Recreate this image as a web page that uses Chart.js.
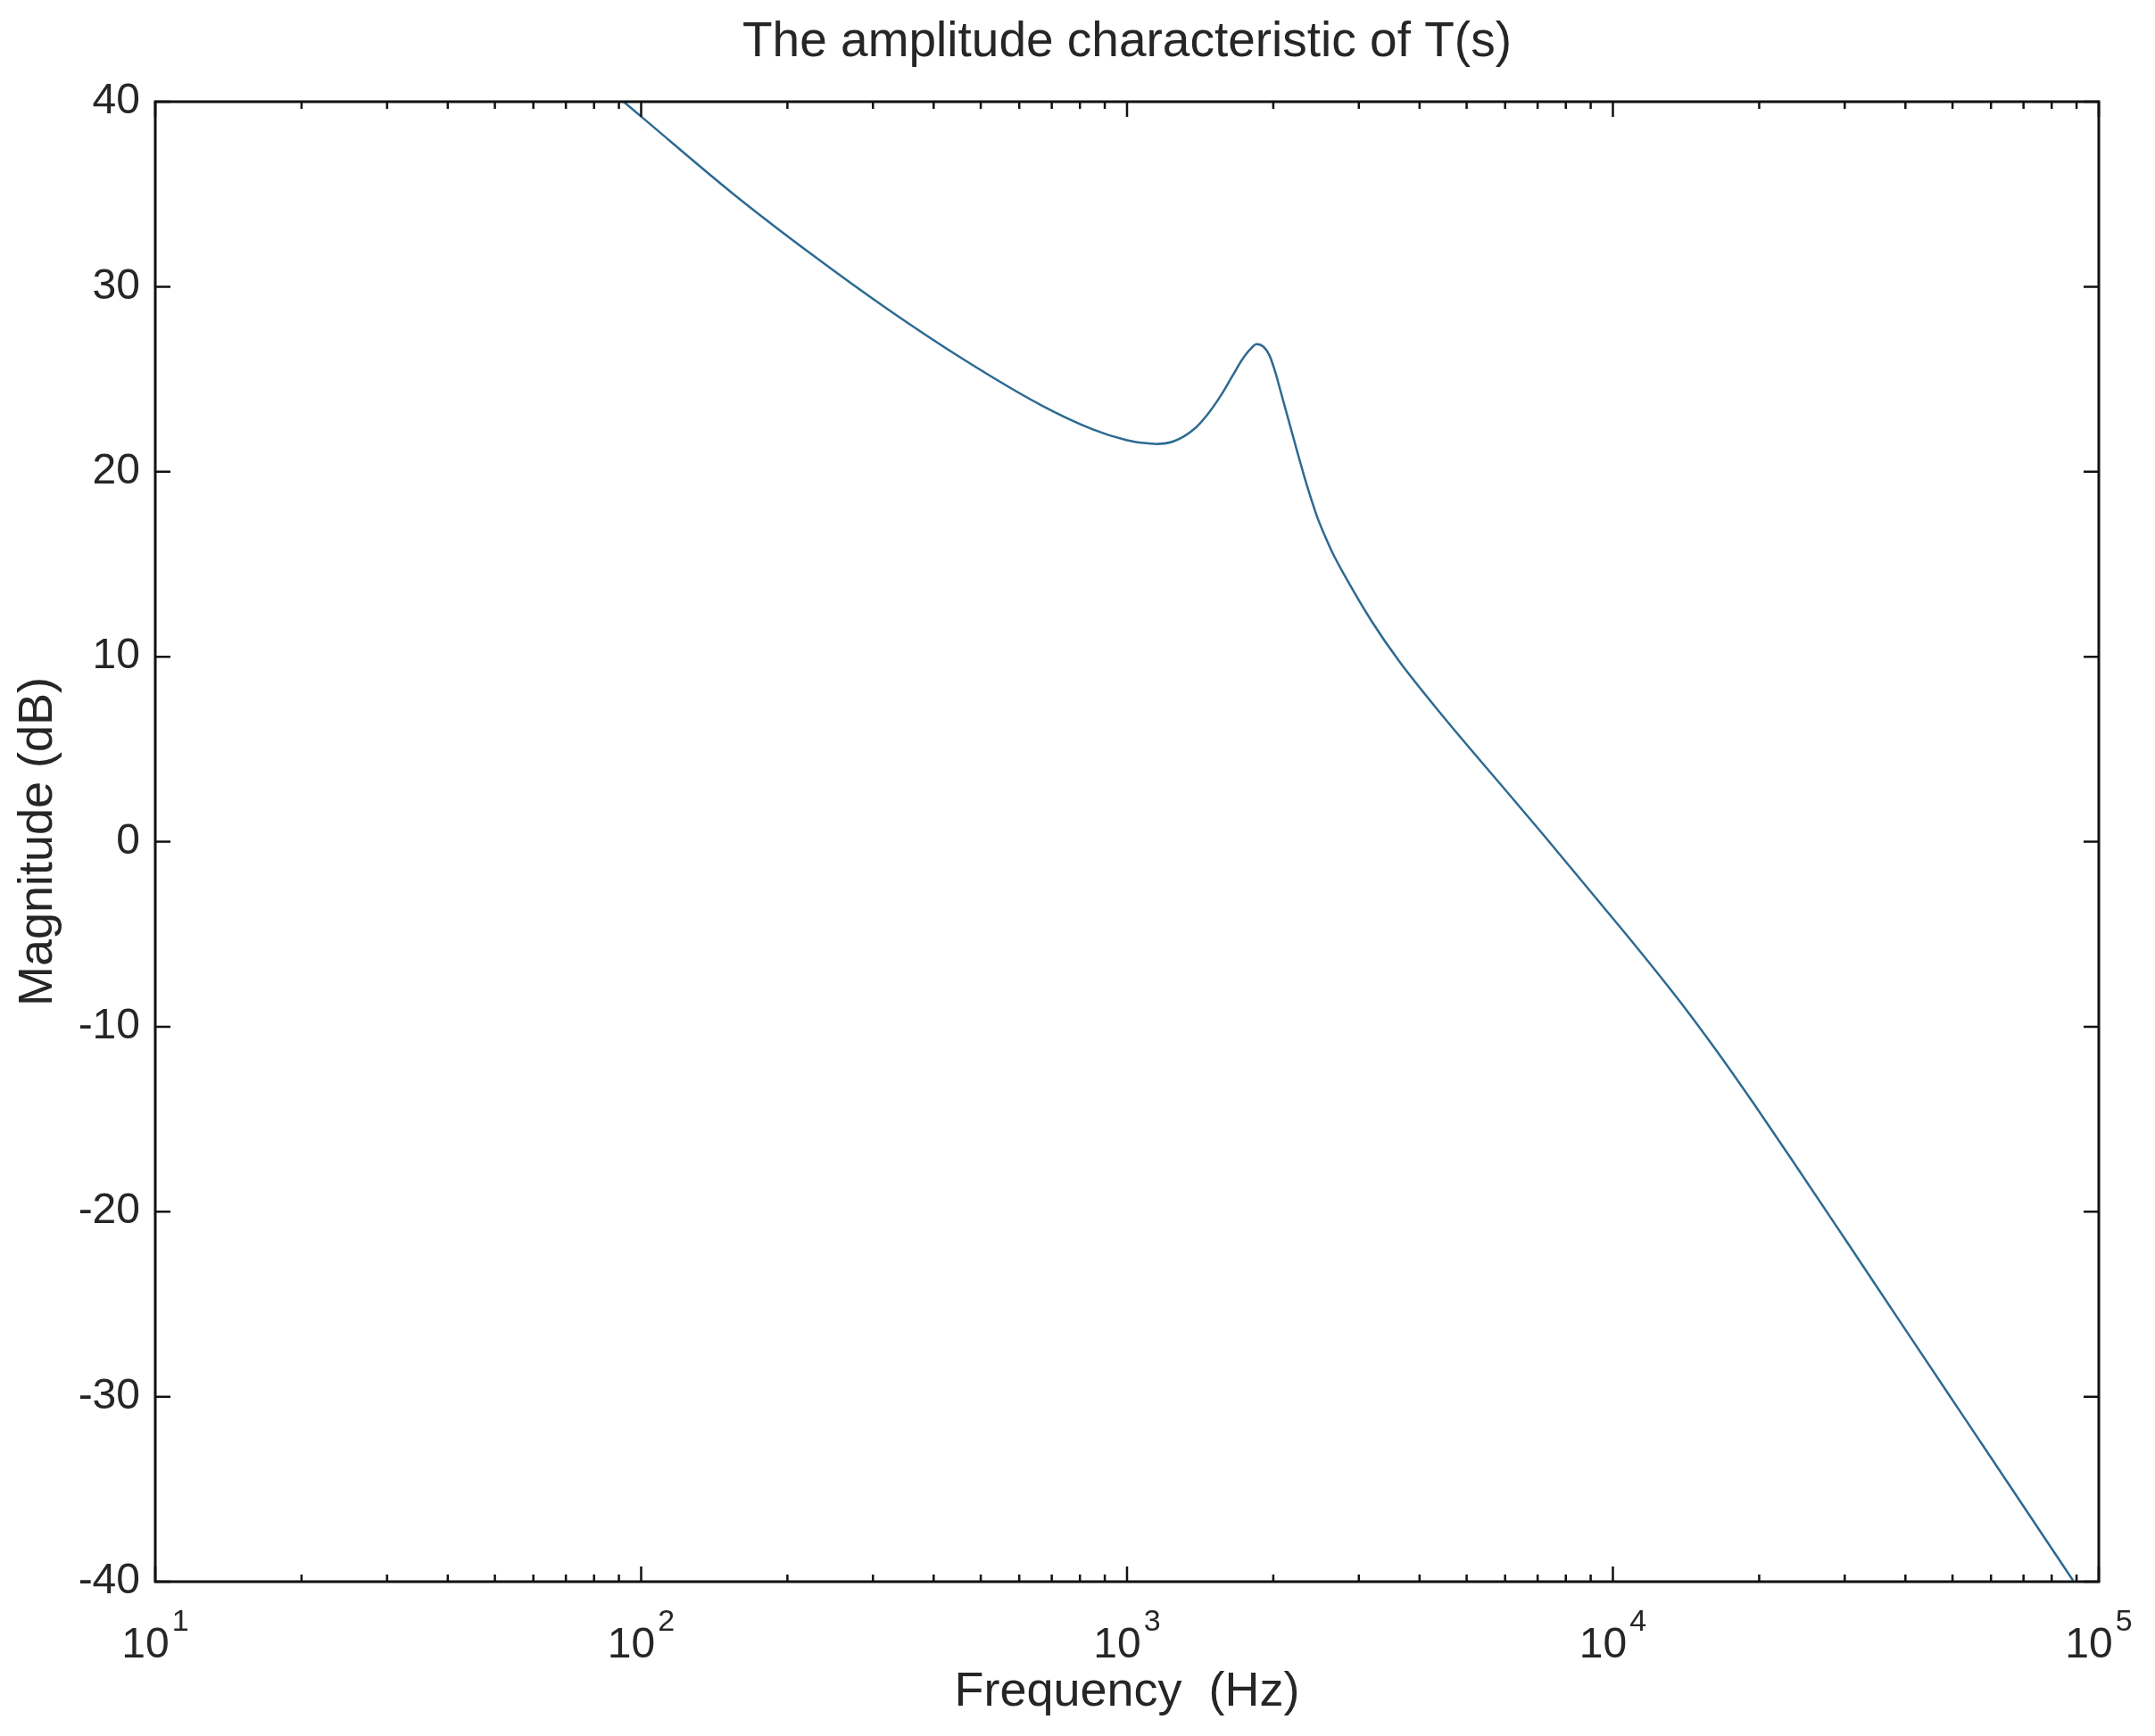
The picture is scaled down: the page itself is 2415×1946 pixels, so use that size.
<!DOCTYPE html>
<html>
<head>
<meta charset="utf-8">
<title>The amplitude characteristic of T(s)</title>
<script src="https://cdn.jsdelivr.net/npm/chart.js@4.4.1/dist/chart.umd.min.js"></script>
<style>
    html, body { margin: 0; padding: 0; background: #fff; }
    #wrap { width: 2415px; height: 1946px; position: relative; }
</style>
</head>
<body>
<div id="wrap"><canvas id="bode"></canvas></div>
<script>
const freqHz = [92, 100, 155, 223, 321, 462, 665, 848, 1000, 1081, 1150, 1250, 1374, 1470, 1563, 1650,
    1725, 1790, 1849, 1910, 1963, 2020, 2062, 2133, 2234, 2345, 2467, 2543, 2650, 2803, 3191, 3633,
    4463, 5916, 7205, 9030, 11150, 13800, 16500, 19600, 23500, 29900, 39700, 52600, 69700, 88600];
const magnitudeDb = [40.0, 39.2, 35.0, 31.8, 28.8, 26.05, 23.6, 22.3, 21.7, 21.55, 21.5, 21.65, 22.3, 23.15, 24.15, 25.2,
    26.05, 26.6, 26.9, 26.75, 26.3, 25.37, 24.52, 23.12, 21.2, 19.27, 17.5, 16.65, 15.6, 14.4, 11.9, 9.75,
    6.8, 3.0, 0.35, -2.75, -5.65, -8.7, -11.45, -14.25, -17.3, -21.4, -26.25, -31.05, -35.85, -39.95];

// x tick labels: 10^1 ... 10^5
const xTickValues = [10, 100, 1000, 10000, 100000];
const xTickBase = '10';
const xTickExp = ['1', '2', '3', '4', '5'];

const chartTitle = 'The amplitude characteristic of T(s)';
const xTitle = 'Frequency  (Hz)';
const yTitle = 'Magnitude (dB)';

const FONT = '"Liberation Sans", Arial, Helvetica, sans-serif';
const TEXT_COLOR = '#262626';
const AXIS_COLOR = '#111111';
const LINE_COLOR = '#2e6a92';

/**
 * Box, inward ticks, superscript decade labels and the title (MATLAB look)
 */
const matlabAxes = {
    id: 'matlabAxes',
    afterDatasetsDraw(chart) {
        const { ctx, chartArea } = chart;
        const { left, right, top, bottom } = chartArea;
        const x = chart.scales.x;
        const y = chart.scales.y;
        const major = 17;
        const minor = 8;

        ctx.save();
        ctx.strokeStyle = AXIS_COLOR;
        ctx.lineWidth = 2.5;
        ctx.beginPath();

        // y ticks, left and right
        y.ticks.forEach((t) => {
            const py = y.getPixelForValue(t.value);
            ctx.moveTo(left, py);
            ctx.lineTo(left + major, py);
            ctx.moveTo(right, py);
            ctx.lineTo(right - major, py);
        });

        // x decade ticks, bottom and top
        xTickValues.forEach((v) => {
            const px = x.getPixelForValue(v);
            ctx.moveTo(px, bottom);
            ctx.lineTo(px, bottom - major);
            ctx.moveTo(px, top);
            ctx.lineTo(px, top + major);
        });

        // x minor ticks 2..9 in every decade
        for (let i = 0; i < xTickValues.length - 1; i++) {
            for (let m = 2; m <= 9; m++) {
                const px = x.getPixelForValue(xTickValues[i] * m);
                ctx.moveTo(px, bottom);
                ctx.lineTo(px, bottom - minor);
                ctx.moveTo(px, top);
                ctx.lineTo(px, top + minor);
            }
        }
        ctx.stroke();

        // box
        ctx.lineWidth = 3;
        ctx.strokeRect(left, top, right - left, bottom - top);

        // decade labels with superscript exponent
        ctx.fillStyle = TEXT_COLOR;
        ctx.textBaseline = 'alphabetic';
        ctx.textAlign = 'left';
        const baseFont = `48px ${FONT}`;
        const expFont = `34px ${FONT}`;
        xTickValues.forEach((v, i) => {
            const px = x.getPixelForValue(v);
            ctx.font = baseFont;
            const wb = ctx.measureText(xTickBase).width;
            ctx.font = expFont;
            const we = ctx.measureText(xTickExp[i]).width;
            const start = px - (wb + 3 + we) / 2;
            ctx.font = baseFont;
            ctx.fillText(xTickBase, start, bottom + 85);
            ctx.font = expFont;
            ctx.fillText(xTickExp[i], start + wb + 3, bottom + 55);
        });

        // title, centred over the plot box
        ctx.font = `55px ${FONT}`;
        ctx.textAlign = 'center';
        ctx.fillText(chartTitle, (left + right) / 2, 63);

        ctx.restore();
    },
};

const ctx = document.getElementById('bode').getContext('2d');
new Chart(ctx, {
    type: 'scatter',
    data: {
        datasets: [
            {
                label: 'T(s)',
                data: freqHz.map((f, i) => ({ x: f, y: magnitudeDb[i] })),
                showLine: true,
                borderColor: LINE_COLOR,
                backgroundColor: LINE_COLOR,
                borderWidth: 2.5,
                pointRadius: 0,
                cubicInterpolationMode: 'monotone',
                fill: false,
            },
        ],
    },
    options: {
        responsive: true,
        maintainAspectRatio: false,
        animation: false,
        devicePixelRatio: 1,
        layout: {
            padding: { top: 114, right: 63, bottom: 0, left: 0 },
        },
        plugins: {
            legend: { display: false },
            tooltip: { enabled: false },
            title: { display: false },
        },
        scales: {
            x: {
                type: 'logarithmic',
                min: 10,
                max: 100000,
                grid: { display: false, drawTicks: false },
                border: { display: false },
                ticks: { display: false },
                title: {
                    display: true,
                    text: xTitle,
                    color: TEXT_COLOR,
                    font: { family: FONT, size: 54 },
                    padding: { top: 0, bottom: 16 },
                },
                afterFit(scale) {
                    scale.height = 173;
                },
            },
            y: {
                type: 'linear',
                min: -40,
                max: 40,
                grid: { display: false, drawTicks: false },
                border: { display: false },
                ticks: {
                    stepSize: 10,
                    padding: 17,
                    color: TEXT_COLOR,
                    font: { family: FONT, size: 48 },
                },
                title: {
                    display: true,
                    text: yTitle,
                    color: TEXT_COLOR,
                    font: { family: FONT, size: 54 },
                    padding: { top: 11, bottom: 0 },
                },
                afterFit(scale) {
                    scale.width = 174;
                },
            },
        },
    },
    plugins: [matlabAxes],
});
</script>
</body>
</html>
